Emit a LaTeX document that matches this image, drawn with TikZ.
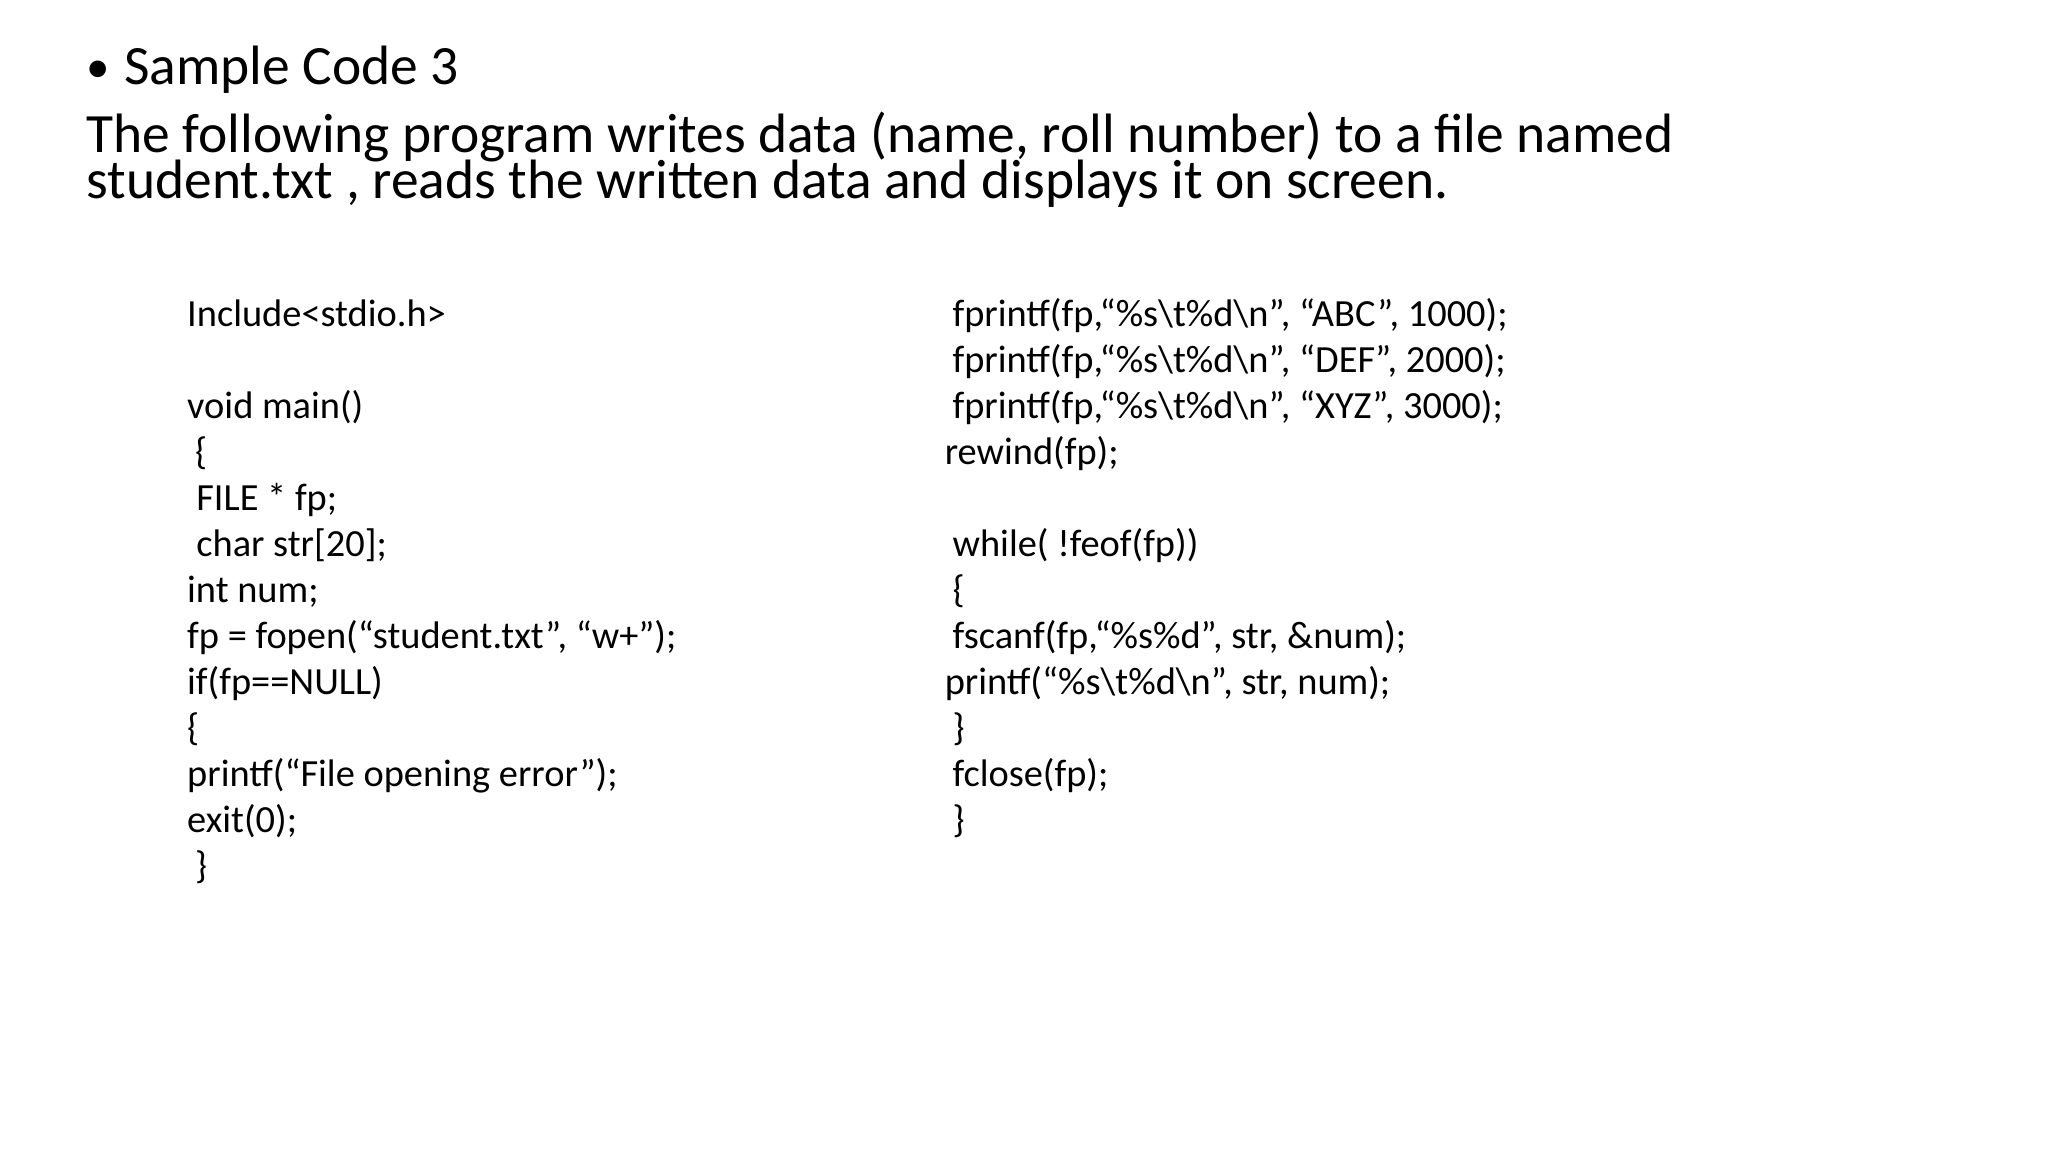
\documentclass[tikz,border=0pt]{standalone}
\usepackage{fontspec}
\setmainfont{Carlito}
\begin{document}
\begin{tikzpicture}[x=0.6122pt,y=-0.6122pt,
  big/.style={anchor=base west,inner sep=0pt,font=\fontsize{26}{26}\selectfont},
  code/.style={anchor=base west,inner sep=0pt,font=\fontsize{18}{18}\selectfont}]
\useasboundingbox[fill=white] (0,0) rectangle (1568,882);
\node[big,font=\fontsize{22}{22}\selectfont] (b) at (66,63) {•};
\node[big] (t) at (95,65) {Sample Code 3};
\node[big] (p1) at (66,117) {The following program writes data (name, roll number) to a file named};
\node[big] (p2) at (66,152) {student.txt , reads the written data and displays it on screen.};
\def\L#1{\fpeval{250+35.2*#1}}
\node[code] (l0) at (143,{\L0}) {Include<stdio.h>};
\node[code] (l2) at (143,{\L2}) {void main()};
\node[code] (l3) at (149,{\L3}) {\{};
\node[code] (l4) at (150,{\L4}) {FILE * fp;};
\node[code] (l5) at (150,{\L5}) {char str[20];};
\node[code] (l6) at (143,{\L6}) {int num;};
\node[code] (l7) at (143,{\L7}) {fp = fopen(“student.txt”, “w+”);};
\node[code] (l8) at (143,{\L8}) {if(fp==NULL)};
\node[code] (l9) at (143,{\L9}) {\{};
\node[code] (l10) at (143,{\L{10}}) {printf(“File opening error”);};
\node[code] (l11) at (143,{\L{11}}) {exit(0);};
\node[code] (l12) at (149,{\L{12}}) {\}};
\node[code] (r0) at (729,{\L0}) {fprintf(fp,“\%s\textbackslash t\%d\textbackslash n”, “ABC”, 1000);};
\node[code] (r1) at (729,{\L1}) {fprintf(fp,“\%s\textbackslash t\%d\textbackslash n”, “DEF”, 2000);};
\node[code] (r2) at (729,{\L2}) {fprintf(fp,“\%s\textbackslash t\%d\textbackslash n”, “XYZ”, 3000);};
\node[code] (r3) at (723,{\L3}) {rewind(fp);};
\node[code] (r5) at (729,{\L5}) {while( !feof(fp))};
\node[code] (r6) at (729,{\L6}) {\{};
\node[code] (r7) at (729,{\L7}) {fscanf(fp,“\%s\%d”, str, \&num);};
\node[code] (r8) at (723,{\L8}) {printf(“\%s\textbackslash t\%d\textbackslash n”, str, num);};
\node[code] (r9) at (729,{\L9}) {\}};
\node[code] (r10) at (729,{\L{10}}) {fclose(fp);};
\node[code] (r11) at (729,{\L{11}}) {\}};
\end{tikzpicture}
\end{document}
